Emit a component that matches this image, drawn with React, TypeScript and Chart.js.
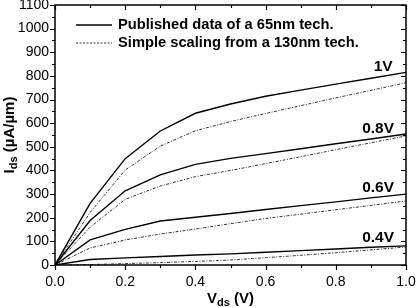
import React, { useEffect, useRef } from 'react';
import { Chart, registerables } from 'chart.js';

Chart.register(...registerables);

// Drain voltage samples (V)
const vds = [0, 0.1, 0.2, 0.3, 0.4, 0.5, 0.6, 0.7, 0.8, 0.9, 1.0];

// Published data of a 65nm tech. (µA/µm)
const pub1V = [0, 261, 450, 567, 642, 681, 714, 740, 765, 790, 815];
const pub08V = [0, 188, 314, 381, 426, 451, 471, 492, 513, 533, 554];
const pub06V = [0, 106, 151, 186, 202, 218, 235, 251, 267, 284, 300];
const pub04V = [0, 23, 30, 36, 42, 47, 54, 61, 68, 75, 81];

// Simple scaling from a 130nm tech. (µA/µm)
const sim1V = [0, 222, 402, 503, 568, 607, 641, 674, 707, 739, 771];
const sim08V = [0, 160, 278, 334, 374, 400, 429, 458, 488, 517, 546];
const sim06V = [0, 72, 106, 131, 152, 175, 197, 215, 234, 252, 271];
const sim04V = [0, 2, 6, 10, 15, 21, 31, 41, 52, 64, 76];

const seriesNames = ['Published data of a 65nm tech.', 'Simple scaling from a 130nm tech.'];

// Gate-voltage annotations (text, anchor in data coordinates)
const curveLabels = ['1V', '0.8V', '0.6V', '0.4V'];
const curveLabelX = [0.962, 0.966, 0.966, 0.966];
const curveLabelY = [838, 577, 328, 116];

const xMin = 0;
const xMax = 1;
const xMajor = 0.2;
const xMinor = 0.1;
const yMin = 0;
const yMax = 1100;
const yMajor = 100;
const yMinor = 50;

const FONT = '"Liberation Sans", Arial, Helvetica, sans-serif';

const toPts = (ys: number[]) => ys.map((y, i) => ({ x: vds[i], y }));

const decorPlugin = {
  id: 'decor',
  afterDraw(chart: any) {
    const { ctx, chartArea: a, scales } = chart;
    const xs = scales.x;
    const ys = scales.y;
    ctx.save();
    // frame
    ctx.strokeStyle = '#000';
    ctx.lineWidth = 1.5;
    ctx.strokeRect(a.left, a.top, a.right - a.left, a.bottom - a.top);
    // ticks
    ctx.lineWidth = 1.2;
    ctx.beginPath();
    const nY = Math.round((yMax - yMin) / yMinor);
    for (let i = 0; i <= nY; i++) {
      const v = yMin + i * yMinor;
      const p = Math.round(ys.getPixelForValue(v)) + 0.5;
      const len = i % Math.round(yMajor / yMinor) === 0 ? 5 : 3;
      ctx.moveTo(a.left - len, p);
      ctx.lineTo(a.left, p);
      ctx.moveTo(a.right - len, p);
      ctx.lineTo(a.right, p);
    }
    const nX = Math.round((xMax - xMin) / xMinor);
    for (let i = 0; i <= nX; i++) {
      const v = xMin + i * xMinor;
      const p = Math.round(xs.getPixelForValue(v)) + 0.5;
      const len = i % Math.round(xMajor / xMinor) === 0 ? 5 : 3;
      ctx.moveTo(p, a.bottom);
      ctx.lineTo(p, a.bottom + len);
      ctx.moveTo(p, a.top);
      ctx.lineTo(p, a.top + len);
    }
    ctx.stroke();

    // legend
    const legY = [a.top + 20, a.top + 38];
    const lx0 = a.left + 21;
    const lx1 = a.left + 57;
    ctx.lineWidth = 1.4;
    ctx.strokeStyle = '#000';
    ctx.setLineDash([]);
    ctx.beginPath();
    ctx.moveTo(lx0, legY[0]);
    ctx.lineTo(lx1, legY[0]);
    ctx.stroke();
    ctx.lineWidth = 1;
    ctx.strokeStyle = '#333';
    ctx.setLineDash([2, 1.5]);
    ctx.beginPath();
    ctx.moveTo(lx0, legY[1]);
    ctx.lineTo(lx1, legY[1]);
    ctx.stroke();
    ctx.setLineDash([]);
    ctx.fillStyle = '#000';
    ctx.font = `bold 14.7px ${FONT}`;
    ctx.textBaseline = 'middle';
    ctx.textAlign = 'left';
    ctx.fillText(seriesNames[0], a.left + 63, legY[0]);
    ctx.fillText(seriesNames[1], a.left + 63, legY[1]);

    // curve labels
    ctx.font = `bold 15.5px ${FONT}`;
    ctx.textAlign = 'right';
    for (let i = 0; i < curveLabels.length; i++) {
      ctx.fillText(curveLabels[i], xs.getPixelForValue(curveLabelX[i]), ys.getPixelForValue(curveLabelY[i]));
    }

    // x title: V_ds (V)
    const cx = (a.left + a.right) / 2;
    const ty = 298;
    const big = `bold 15px ${FONT}`;
    const small = `bold 11px ${FONT}`;
    ctx.textAlign = 'left';
    ctx.textBaseline = 'alphabetic';
    ctx.font = big;
    const wV = ctx.measureText('V').width;
    const wRest = ctx.measureText(' (V)').width;
    ctx.font = small;
    const wSub = ctx.measureText('ds').width;
    let x0 = cx - (wV + wSub + wRest) / 2;
    const base = ty + 5;
    ctx.font = big;
    ctx.fillText('V', x0, base);
    ctx.font = small;
    ctx.fillText('ds', x0 + wV, base + 3);
    ctx.font = big;
    ctx.fillText(' (V)', x0 + wV + wSub, base);

    // y title: I_ds (µA/µm), rotated
    ctx.save();
    ctx.translate(14, (a.top + a.bottom) / 2);
    ctx.rotate(-Math.PI / 2);
    ctx.font = big;
    const wI = ctx.measureText('I').width;
    const wRestY = ctx.measureText(' (µA/µm)').width;
    ctx.font = small;
    const wSubY = ctx.measureText('ds').width;
    x0 = -(wI + wSubY + wRestY) / 2;
    ctx.font = big;
    ctx.fillText('I', x0, 0);
    ctx.font = small;
    ctx.fillText('ds', x0 + wI, 3);
    ctx.font = big;
    ctx.fillText(' (µA/µm)', x0 + wI + wSubY, 0);
    ctx.restore();

    ctx.restore();
  },
};

export default function App() {
  const ref = useRef<HTMLCanvasElement | null>(null);

  useEffect(() => {
    if (!ref.current) return;
    const solid = { borderColor: '#000', borderWidth: 1.4, borderDash: [] as number[] };
    const dotted = { borderColor: '#333', borderWidth: 1, borderDash: [3, 1.5, 1, 1.5] };
    const mk = (label: string, ys: number[], style: any) => ({
      label,
      data: toPts(ys),
      ...style,
      pointRadius: 0,
      tension: 0,
      fill: false,
    });
    const chart = new Chart(ref.current, {
      type: 'line',
      data: {
        datasets: [
          mk(seriesNames[0], pub1V, solid),
          mk(seriesNames[0], pub08V, solid),
          mk(seriesNames[0], pub06V, solid),
          mk(seriesNames[0], pub04V, solid),
          mk(seriesNames[1], sim1V, dotted),
          mk(seriesNames[1], sim08V, dotted),
          mk(seriesNames[1], sim06V, dotted),
          mk(seriesNames[1], sim04V, dotted),
        ],
      },
      options: {
        responsive: false,
        animation: false,
        devicePixelRatio: 1,
        layout: { padding: { left: 0, top: 5, right: 10, bottom: 0 } },
        plugins: { legend: { display: false }, tooltip: { enabled: false } },
        scales: {
          x: {
            type: 'linear',
            min: xMin,
            max: xMax,
            border: { display: false },
            grid: { display: false, drawTicks: false },
            ticks: {
              stepSize: xMajor,
              padding: 9,
              color: '#000',
              font: { family: FONT, size: 14 },
              callback: (v: any) => Number(v).toFixed(1),
              maxRotation: 0,
            },
            afterFit: (s: any) => {
              s.height = 42;
              s.paddingLeft = 0;
              s.paddingRight = 0;
            },
          },
          y: {
            type: 'linear',
            min: yMin,
            max: yMax,
            border: { display: false },
            grid: { display: false, drawTicks: false },
            ticks: {
              stepSize: yMajor,
              padding: 6,
              color: '#000',
              font: { family: FONT, size: 14 },
              callback: (v: any) => String(Math.round(Number(v))),
            },
            afterFit: (s: any) => {
              s.width = 55;
              s.paddingTop = 0;
              s.paddingBottom = 0;
            },
          },
        },
      },
      plugins: [decorPlugin],
    });
    return () => chart.destroy();
  }, []);

  return (
    <div style={{ position: 'fixed', left: 0, top: 0, width: 416, height: 307, background: '#fff' }}>
      <canvas ref={ref} width={416} height={307} style={{ display: 'block', width: 416, height: 307 }} />
    </div>
  );
}
